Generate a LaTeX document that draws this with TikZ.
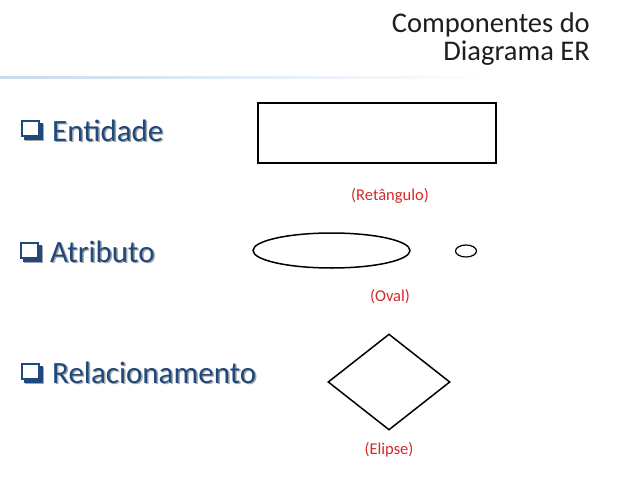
\documentclass[tikz,border=0pt]{standalone}
\usepackage{fontspec}
\setmainfont{Carlito}
\usetikzlibrary{shapes.geometric}
\definecolor{hblue}{RGB}{31,73,125}
\definecolor{lred}{RGB}{215,40,40}
\definecolor{tgray}{RGB}{30,30,30}
\definecolor{faint}{RGB}{200,218,235}
\tikzset{
  heading/.style={font=\fontsize{31}{31}\selectfont, text=hblue, anchor=base west, inner sep=0pt},
  headshadow/.style={font=\fontsize{31}{31}\selectfont, text=black!35, anchor=base west, inner sep=0pt},
  redlabel/.style={font=\fontsize{16.5}{16.5}\selectfont, text=lred, inner sep=0pt},
  shapeline/.style={draw=black, line width=1.5pt},
}
\newcommand{\mybullet}[2]{%
  \fill[black!35] (#1+2.5,#2+2.5) rectangle (#1+21.5,#2+19.5);
  \fill[hblue] (#1+2,#2+2) rectangle (#1+21,#2+19);
  \filldraw[fill=white, draw=hblue, line width=1.6pt] (#1,#2) rectangle (#1+17,#2+15);
}
\begin{document}
\begin{tikzpicture}[x=1pt,y=-1pt]
\useasboundingbox (0,0) rectangle (638,479);
\fill[white] (0,0) rectangle (638,479);
% faint line under title
\shade[left color=faint, right color=white] (0,76.5) rectangle (500,78);
% title
\node[font=\fontsize{28.5}{28.5}\selectfont, text=tgray, anchor=base east, inner sep=0pt] (t1) at (590,32) {Componentes do};
\node[font=\fontsize{28.5}{28.5}\selectfont, text=tgray, anchor=base east, inner sep=0pt] (t2) at (590,60) {Diagrama ER};
% left headings
\mybullet{22}{121}
\node[headshadow] at (53.5,142.5) {Entidade};
\node[heading] (h1) at (52,141) {Entidade};
\mybullet{21}{243}
\node[headshadow] at (51.5,263.5) {Atributo};
\node[heading] (h2) at (50,262) {Atributo};
\mybullet{22}{364}
\node[headshadow] at (53.5,384.5) {Relacionamento};
\node[heading] (h3) at (52,383) {Relacionamento};
% rectangle
\node[shapeline, minimum width=238pt, minimum height=60pt, inner sep=0pt] (rect) at (377,133) {};
\node[redlabel] (l1) at (390,196) {(Retângulo)};
% ovals
\node[shapeline, ellipse, minimum width=157pt, minimum height=35pt, inner sep=0pt] (oval) at (331.5,250.5) {};
\node[shapeline, ellipse, minimum width=21pt, minimum height=12pt, inner sep=0pt, line width=1.2pt] (small) at (466,251) {};
\node[redlabel] (l2) at (390,297) {(Oval)};
% diamond
\node[shapeline, diamond, minimum width=122pt, minimum height=96pt, inner sep=0pt, aspect=1.27] (dia) at (389,382) {};
\node[redlabel] (l3) at (389,450) {(Elipse)};
\end{tikzpicture}
\end{document}
